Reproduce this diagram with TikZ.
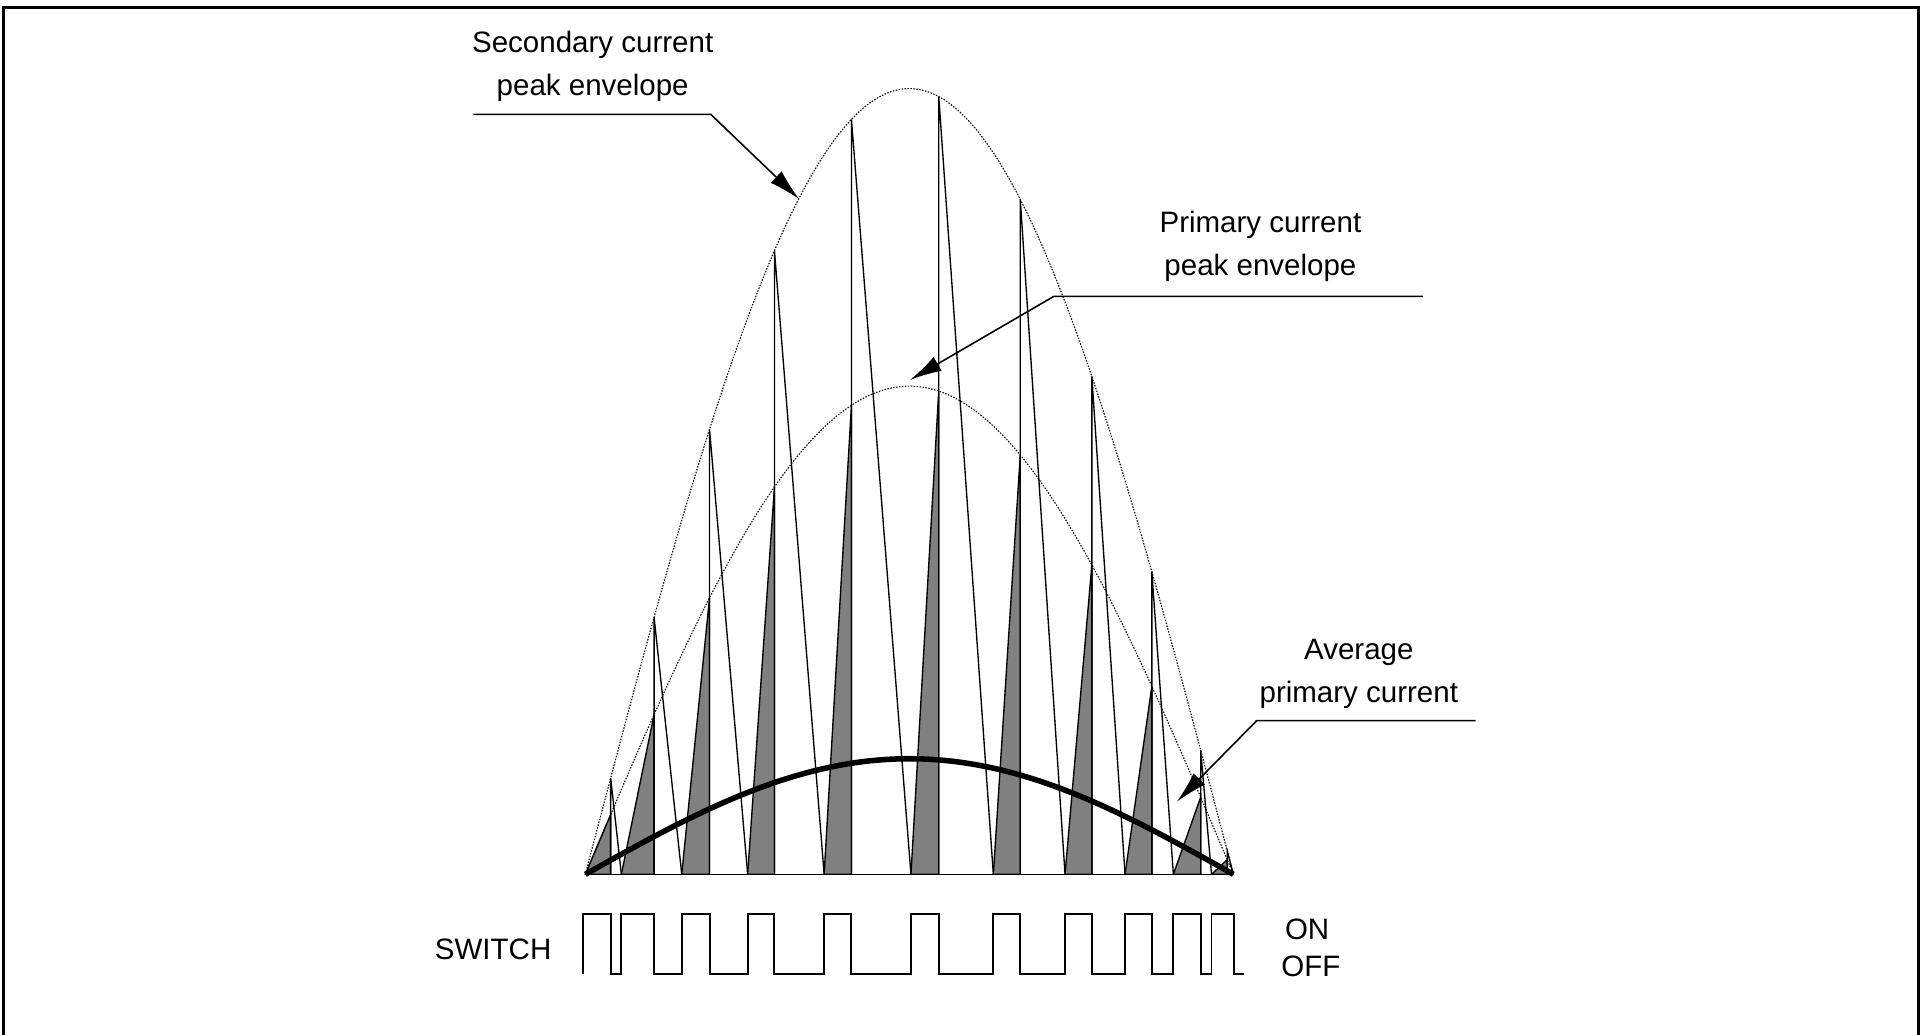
\documentclass[tikz,border=0pt]{standalone}
\usepackage{fontspec}
\setmainfont{Liberation Sans}
\usetikzlibrary{arrows.meta}
\begin{document}
\begin{tikzpicture}[x=1pt,y=-1pt,
  lbl/.style={font=\fontsize{24}{35}\selectfont,align=center,inner sep=0pt},
  env/.style={line width=0.9pt,dash pattern=on 1.2pt off 1.2pt},
  thin/.style={line width=1.1pt},
  callout/.style={line width=1.3pt,-{Latex[length=26pt,width=13pt]}}]
\useasboundingbox (0,0) rectangle (1563,841);
\draw[line width=2.5pt] (3,845) -- (3,6) -- (1560,6) -- (1560,845);
% ramps and spikes
\foreach \xa/\xb/\xc in {476/496.6/505.3,505.3/531.9/554.4,554.4/577/608,608/629.8/670.2,670.2/692.4/740.8,740.8/763.4/807.8,807.8/829.7/866.1,866.1/887.9/914.9,914.9/936.7/954.2,954.2/976.4/985.2,985.2/998/1003}{
  \pgfmathsetmacro\vs{sin(0.341556*(\xb-476))}
  \pgfmathsetmacro\vp{711-397*\vs}
  \pgfmathsetmacro\vq{711-639*\vs}
  \filldraw[fill=black!50,thin] (\xa,711) -- (\xb,\vp) -- (\xb,711) -- cycle;
  \draw[thin] (\xb,711) -- (\xb,\vq) -- (\xc,711);
}
\draw[thin] (476,711) -- (1003,711);
\draw[env] plot[domain=476:1003,samples=120] (\x,{711-639*sin(0.341556*(\x-476))});
\draw[env] plot[domain=476:1003,samples=120] (\x,{711-397*sin(0.341556*(\x-476))});
\draw[line width=4.5pt] plot[domain=476:1003,samples=80] (\x,{711-94*sin(0.341556*(\x-476))});
% switch
\draw[line width=1.6pt] (474,792) -- (474,743) -- (496.6,743) -- (496.6,792) -- (505.3,792) -- (505.3,743) -- (531.9,743) -- (531.9,792) -- (554.4,792) -- (554.4,743) -- (577,743) -- (577,792) -- (608,792) -- (608,743) -- (629.8,743) -- (629.8,792) -- (670.2,792) -- (670.2,743) -- (692.4,743) -- (692.4,792) -- (740.8,792) -- (740.8,743) -- (763.4,743) -- (763.4,792) -- (807.8,792) -- (807.8,743) -- (829.7,743) -- (829.7,792) -- (866.1,792) -- (866.1,743) -- (887.9,743) -- (887.9,792) -- (914.9,792) -- (914.9,743) -- (936.7,743) -- (936.7,792) -- (954.2,792) -- (954.2,743) -- (976.4,743) -- (976.4,792) -- (985.2,792) -- (985.2,743) -- (1003.4,743) -- (1003.4,792) -- (1012,792);
\node[lbl] (sw) at (401,772) {SWITCH};
\node[lbl] (on) at (1063,756) {ON};
\node[lbl] (off) at (1066,786) {OFF};
% labels
\node[lbl] (sec) at (482,54) {Secondary current\\peak envelope};
\node[lbl] (pri) at (1025,200) {Primary current\\peak envelope};
\node[lbl] (avg) at (1105,548) {Average\\primary current};
\coordinate (s1) at (385,93); \coordinate (s2) at (578,93); \coordinate (st) at (650,162);
\coordinate (p1) at (1157,241); \coordinate (p2) at (857,241); \coordinate (pt) at (740,309);
\coordinate (a1) at (1200,586); \coordinate (a2) at (1022,586); \coordinate (at) at (957,652);
\draw[callout] (s1) -- (s2) -- (st);
\draw[callout] (p1) -- (p2) -- (pt);
\draw[callout] (a1) -- (a2) -- (at);
\end{tikzpicture}
\end{document}
